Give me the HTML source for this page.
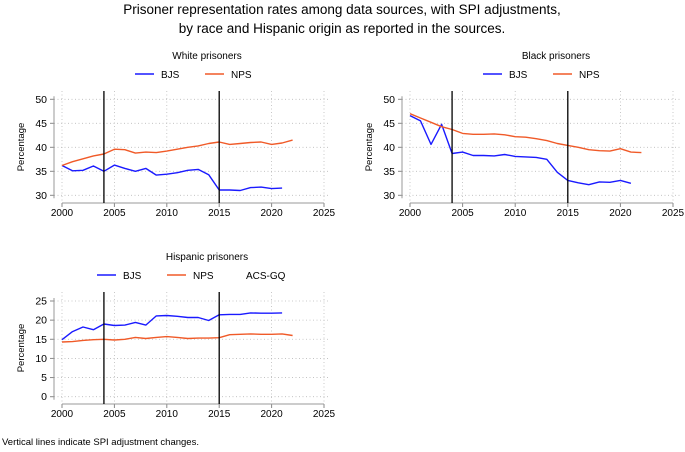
<!DOCTYPE html>
<html><head><meta charset="utf-8">
<style>
body{margin:0;background:#fff;}
svg{font-family:"Liberation Sans",Arial,sans-serif;display:block}
</style></head>
<body>
<svg id="chart" width="685" height="452" viewBox="0 0 685 452">
<text x="342" y="14" text-anchor="middle" font-size="13.5">Prisoner representation rates among data sources, with SPI adjustments,</text>
<text x="342" y="33" text-anchor="middle" font-size="13.5">by race and Hispanic origin as reported in the sources.</text>
<text x="2" y="445" font-size="9.5">Vertical lines indicate SPI adjustment changes.</text>
</svg>
<script>
const years = [2000,2001,2002,2003,2004,2005,2006,2007,2008,2009,2010,2011,2012,2013,2014,2015,2016,2017,2018,2019,2020,2021,2022];
const xTicks = [2000,2005,2010,2015,2020,2025];
const adjustmentYears = [2004,2015];
const whiteBJS = [36.2,35.1,35.2,36.1,35.0,36.3,35.6,35.0,35.6,34.2,34.4,34.7,35.2,35.4,34.3,31.1,31.1,31.0,31.6,31.7,31.4,31.5];
const whiteNPS = [36.2,37.0,37.6,38.2,38.6,39.6,39.5,38.8,39.0,38.9,39.2,39.6,40.0,40.3,40.8,41.1,40.6,40.8,41.0,41.1,40.6,40.9,41.5];
const blackBJS = [46.6,45.5,40.6,44.8,38.7,39.0,38.3,38.3,38.2,38.5,38.1,38.0,37.9,37.5,34.8,33.1,32.6,32.2,32.8,32.7,33.1,32.5];
const blackNPS = [47.0,46.1,45.2,44.3,43.7,42.9,42.7,42.7,42.8,42.6,42.2,42.1,41.8,41.4,40.8,40.4,40.0,39.5,39.3,39.2,39.7,39.0,38.9];
const hispBJS = [14.9,17.0,18.2,17.5,19.0,18.6,18.7,19.4,18.7,21.1,21.2,21.0,20.7,20.7,19.9,21.4,21.5,21.5,21.9,21.8,21.8,21.9];
const hispNPS = [14.3,14.4,14.7,14.9,15.0,14.8,15.0,15.5,15.2,15.5,15.7,15.5,15.2,15.3,15.3,15.4,16.2,16.3,16.4,16.3,16.3,16.4,16.0];
const yTicksRace = [30,35,40,45,50];
const yTicksHisp = [0,5,10,15,20,25];

const NS='http://www.w3.org/2000/svg';
const svg=document.getElementById('chart');
function mk(tag,attrs,parent,text){const e=document.createElementNS(NS,tag);for(const k in attrs)e.setAttribute(k,attrs[k]);if(text!==undefined)e.textContent=text;(parent||svg).appendChild(e);return e;}

const BLUE='#1a1aff', ORANGE='#f05a28';
const panels=[
 {key:'white',title:'White prisoners',x0:62,x1:324,axisX:54,top:91,bottom:203,yv0:30,yv1:50,yp0:195.3,yp1:99.3,right:330,yTicks:yTicksRace,series:[['BJS',whiteBJS,BLUE],['NPS',whiteNPS,ORANGE]],titleY:59,legY:77,leg:[[135,'BJS',BLUE],[205,'NPS',ORANGE]]},
 {key:'black',title:'Black prisoners',x0:410,x1:673,axisX:402,top:91,bottom:203,yv0:30,yv1:50,yp0:195.3,yp1:99.3,right:680,yTicks:yTicksRace,series:[['BJS',blackBJS,BLUE],['NPS',blackNPS,ORANGE]],titleY:59,legY:77,leg:[[483,'BJS',BLUE],[553,'NPS',ORANGE]]},
 {key:'hispanic',title:'Hispanic prisoners',x0:62,x1:324,axisX:54,top:292,bottom:404,yv0:0,yv1:25,yp0:396.7,yp1:301,right:330,yTicks:yTicksHisp,series:[['BJS',hispBJS,BLUE],['NPS',hispNPS,ORANGE]],titleY:260,legY:278,leg:[[97,'BJS',BLUE],[167,'NPS',ORANGE],[237,'ACS-GQ',null]]}
];

panels.forEach(p=>{
 const g=mk('g',{});
 
 
 const X=v=>p.x0+(v-2000)/(2025-2000)*(p.x1-p.x0);
 const Y=v=>p.yp0+(v-p.yv0)/(p.yv1-p.yv0)*(p.yp1-p.yp0);
 const t=mk('text',{x:(p.axisX+p.right)/2+15,y:p.titleY,'text-anchor':'middle','font-size':10},g,p.title);
 
 
 p.leg.forEach(l=>{
  const lg=mk('g',{},g);
  
  
  if(l[2])mk('line',{x1:l[0],x2:l[0]+19,y1:p.legY-3,y2:p.legY-3,stroke:l[2],'stroke-width':1.6},lg);
  mk('text',{x:l[0]+(l[2]?26:9),y:p.legY+1,'font-size':10},lg,l[1]);
 });
 xTicks.forEach(v=>{
  const gl=mk('line',{x1:X(v),x2:X(v),y1:p.top,y2:p.bottom,stroke:'#bbb','stroke-width':0.8,'stroke-dasharray':'1,2.5'},g);
  
  
  mk('line',{x1:X(v),x2:X(v),y1:p.bottom,y2:p.bottom+4,stroke:'#888'},g);
  const tl=mk('text',{x:X(v),y:p.bottom+13,'text-anchor':'middle','font-size':10},g,String(v));
  
  
 });
 p.yTicks.forEach(v=>{
  mk('line',{x1:p.axisX,x2:p.right,y1:Y(v),y2:Y(v),stroke:'#bbb','stroke-width':0.8,'stroke-dasharray':'1,2.5'},g);
  mk('line',{x1:p.axisX-4,x2:p.axisX,y1:Y(v),y2:Y(v),stroke:'#888'},g);
  const tl=mk('text',{x:p.axisX-7,y:Y(v)+3.5,'text-anchor':'end','font-size':10.5},g,String(v));
  
  
 });
 mk('line',{x1:p.axisX,x2:p.axisX,y1:Y(p.yTicks[0])+3,y2:Y(p.yTicks[p.yTicks.length-1])-3,stroke:'#999','stroke-width':1},g);
 mk('line',{x1:X(2000),x2:X(2025),y1:p.bottom,y2:p.bottom,stroke:'#999','stroke-width':1},g);
 const yt=mk('text',{x:0,y:0,'text-anchor':'middle','font-size':9.5,transform:`translate(${p.axisX-30},${(p.top+p.bottom)/2}) rotate(-90)`},g,'Percentage');
 
 
 p.series.forEach(s=>{
  const pts=s[1].map((v,i)=>X(years[i]).toFixed(1)+','+Y(v).toFixed(1)).join(' ');
  const pl=mk('polyline',{points:pts,fill:'none',stroke:s[2],'stroke-width':1.4,'stroke-linejoin':'round'},g);
  
  
 });
 adjustmentYears.forEach(v=>{
  const vl=mk('line',{x1:X(v),x2:X(v),y1:p.top,y2:p.bottom,stroke:'#000','stroke-width':1.3},g);
  
  
 });
});
</script>
</body></html>
